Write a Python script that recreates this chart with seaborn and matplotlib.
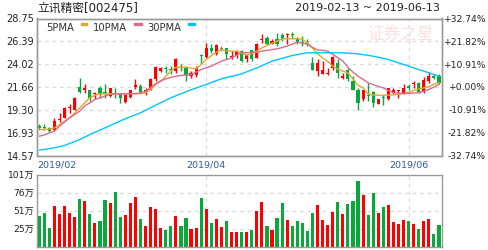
import numpy as np
import pandas as pd
import matplotlib
matplotlib.use("Agg")
import matplotlib.pyplot as plt
import seaborn as sns
from matplotlib.patches import Rectangle
from matplotlib.transforms import blended_transform_factory

sns.set_theme(style="white")
plt.rcParams['font.family'] = ['DejaVu Sans', 'Noto Sans CJK SC']

title = "立讯精密[002475]"
date_range = "2019-02-13 ~ 2019-06-13"
watermark = "证券之星"

opens = [17.61, 17.57, 17.43, 17.26, 18.23, 18.47, 19.44, 19.33, 21.68, 21.40,
         21.30, 20.89, 21.58, 21.13, 20.71, 21.02, 20.95, 20.13, 20.61, 21.68,
         21.75, 21.06, 21.40, 22.44, 23.30, 23.64, 23.54, 23.30, 23.71, 23.64,
         22.78, 22.89, 24.99, 24.75, 25.65, 25.09, 25.58, 25.65, 24.75, 24.85,
         25.37, 24.51, 25.44, 24.68, 26.51, 26.68, 26.13, 26.65, 27.03, 27.03,
         27.16, 26.75, 26.34, 26.23, 24.16, 23.30, 23.02, 22.96, 23.58, 24.16,
         22.61, 23.40, 22.27, 21.40, 20.37, 20.82, 21.16, 19.95, 20.64, 20.44,
         21.02, 21.20, 21.06, 21.75, 21.95, 22.09, 21.23, 22.27, 22.78, 22.78]
closes = [17.43, 17.40, 17.09, 18.19, 18.37, 19.50, 19.57, 20.54, 21.16, 21.54,
          20.54, 21.02, 20.89, 20.99, 21.51, 20.89, 20.54, 20.82, 21.30, 21.82,
          21.16, 21.40, 22.44, 23.71, 23.64, 23.51, 23.40, 24.51, 23.58, 22.89,
          23.13, 23.64, 24.85, 25.65, 25.37, 25.96, 25.58, 25.03, 24.92, 25.30,
          24.34, 24.96, 24.51, 26.13, 26.65, 26.06, 26.47, 26.06, 26.58, 27.16,
          27.03, 26.34, 26.20, 26.10, 23.47, 24.16, 23.37, 23.09, 24.75, 23.13,
          22.78, 22.44, 21.40, 20.02, 21.30, 20.71, 20.02, 20.37, 20.54, 21.51,
          21.30, 21.33, 21.51, 21.58, 22.09, 21.16, 22.40, 22.85, 22.64, 22.09]
highs = [17.85, 17.78, 17.50, 18.47, 18.99, 19.57, 19.85, 20.61, 22.61, 21.92,
         21.40, 21.16, 21.75, 21.92, 21.58, 21.58, 21.06, 20.95, 21.40, 22.51,
         21.92, 21.58, 22.54, 23.82, 23.71, 23.82, 23.82, 24.61, 23.99, 23.82,
         23.30, 23.82, 25.09, 26.23, 26.06, 26.06, 25.89, 25.72, 25.37, 25.54,
         25.44, 25.09, 25.54, 26.20, 27.16, 26.92, 26.58, 27.27, 27.27, 27.27,
         27.37, 26.82, 26.92, 26.58, 24.75, 24.51, 24.34, 23.64, 24.85, 24.51,
         23.13, 23.58, 22.78, 21.51, 21.40, 22.09, 21.23, 20.44, 20.82, 21.58,
         21.58, 21.40, 21.99, 21.99, 22.33, 22.16, 22.68, 23.23, 23.02, 23.02]
lows = [17.26, 17.16, 17.02, 17.09, 18.06, 18.40, 18.99, 19.23, 21.06, 21.06,
        20.20, 20.37, 20.54, 20.54, 20.61, 20.54, 20.02, 20.02, 20.54, 21.47,
        21.06, 20.82, 21.30, 22.33, 23.23, 23.13, 22.96, 23.13, 23.30, 22.27,
        22.61, 22.71, 23.99, 24.68, 25.20, 24.96, 25.37, 24.51, 24.51, 24.68,
        24.23, 24.27, 24.40, 24.61, 26.23, 25.99, 26.06, 25.89, 26.47, 26.13,
        26.75, 26.06, 25.89, 25.89, 23.40, 22.78, 22.96, 22.89, 23.47, 22.61,
        22.44, 22.27, 21.30, 19.33, 20.26, 20.20, 19.57, 19.92, 19.78, 20.33,
        20.89, 20.54, 20.89, 21.40, 21.51, 21.09, 21.09, 22.09, 22.44, 21.92]
volumes = [43.3, 47.5, 26.5, 57.3, 46.1, 57.3, 47.5, 41.9, 67.1, 64.3,
           46.1, 33.5, 36.3, 65.7, 61.5, 76.8, 41.9, 44.7, 61.5, 69.9,
           39.1, 29.3, 55.9, 53.1, 26.5, 23.8, 29.3, 43.3, 29.3, 40.5,
           25.1, 26.5, 68.5, 53.1, 33.5, 39.1, 27.9, 36.3, 21.0, 21.0,
           21.0, 21.0, 23.8, 50.3, 62.9, 29.3, 23.8, 40.5, 61.5, 37.7,
           29.3, 36.3, 33.5, 22.4, 47.5, 58.7, 37.7, 30.7, 48.9, 62.9,
           46.1, 60.1, 64.3, 92.2, 72.6, 44.7, 75.4, 47.5, 55.9, 58.7,
           34.9, 32.1, 37.7, 36.3, 32.1, 25.1, 36.3, 39.1, 18.2, 30.7]
ma5 = [17.26, 17.26, 17.30, 17.43, 17.78, 18.12, 18.47, 18.98, 19.50, 20.02,
       20.54, 20.80, 20.95, 20.95, 20.97, 20.97, 20.95, 20.95, 20.97, 20.97,
       20.95, 21.06, 21.40, 21.91, 22.25, 22.78, 23.30, 23.71, 23.71, 23.71,
       23.62, 23.54, 23.99, 24.50, 24.90, 25.25, 25.54, 25.40, 25.37, 25.37,
       25.20, 24.95, 25.15, 25.37, 25.71, 25.95, 26.20, 26.40, 26.65, 26.65,
       26.65, 26.65, 26.60, 26.20, 25.70, 25.10, 24.68, 24.30, 23.82, 23.50,
       23.30, 23.13, 22.50, 21.85, 21.57, 20.95, 20.82, 20.81, 20.81, 20.81,
       20.85, 20.90, 20.98, 21.10, 21.30, 21.45, 21.57, 21.70, 21.95, 22.10]
ma10 = [16.57, 16.70, 16.90, 17.09, 17.61, 18.04, 18.47, 18.82, 19.16, 19.70,
        20.02, 20.37, 20.54, 20.71, 20.90, 20.95, 20.95, 20.95, 20.97, 20.97,
        21.06, 21.20, 21.60, 22.00, 22.30, 22.50, 22.65, 22.78, 22.85, 22.90,
        22.95, 23.20, 23.47, 23.65, 23.82, 24.08, 24.33, 24.50, 24.68, 24.95,
        25.20, 25.22, 25.23, 25.25, 25.37, 25.45, 25.54, 25.60, 25.75, 25.89,
        26.10, 26.30, 26.20, 26.10, 25.75, 25.50, 25.45, 25.37, 25.05, 24.70,
        24.35, 23.70, 23.20, 22.78, 22.45, 22.09, 21.90, 21.72, 21.57, 21.30,
        21.06, 21.02, 20.99, 21.00, 21.03, 21.06, 21.22, 21.40, 21.65, 21.92]
ma30 = [15.12, 15.20, 15.28, 15.37, 15.49, 15.61, 15.82, 16.02, 16.23, 16.48,
        16.74, 16.97, 17.20, 17.43, 17.67, 17.90, 18.14, 18.37, 18.58, 18.78,
        18.99, 19.25, 19.52, 19.78, 20.03, 20.29, 20.54, 20.75, 20.96, 21.16,
        21.37, 21.55, 21.74, 21.92, 22.12, 22.31, 22.51, 22.64, 22.76, 22.89,
        23.02, 23.23, 23.43, 23.64, 23.87, 24.10, 24.33, 24.48, 24.63, 24.77,
        24.92, 25.01, 25.11, 25.20, 25.20, 25.20, 25.20, 25.20, 25.20, 25.20,
        25.20, 25.16, 25.13, 25.09, 25.01, 24.93, 24.85, 24.74, 24.62, 24.51,
        24.34, 24.16, 23.99, 23.82, 23.64, 23.47, 23.30, 23.13, 22.95, 22.78]

month_pos = [0, 33, 73]
month_labels = ["2019/02", "2019/04", "2019/06"]
price_ticks = [14.57, 16.93, 19.30, 21.66, 24.02, 26.39, 28.75]
pct_labels = ["-32.74%", "-21.82%", "-10.91%", "+0.00%", "+10.91%", "+21.82%", "+32.74%"]
vol_ticks = [25.2, 50.5, 75.7, 100.9]
vol_labels = ["25万", "51万", "76万", "101万"]
ma_names = ["5PMA", "10PMA", "30PMA"]

RED = "#FF0000"
GREEN = "#0AA83A"
GRAY = "#808080"
MA_COLORS = ["#E0A82E", "#DB6A90", "#00C6FF"]
FRAME = "#9A9A9A"
GRID = "#DADADA"
TXT = "#222222"
W, H = 488, 250

df = pd.DataFrame({"o": opens, "c": closes, "h": highs, "l": lows, "v": volumes,
                   "ma5": ma5, "ma10": ma10, "ma30": ma30})
df["x"] = np.arange(len(df))
df["col"] = np.where(df.c > df.o, RED, np.where(df.c < df.o, GREEN, GRAY))
df["vdir"] = np.where(df.c >= df.o, "up", "down")

fig = plt.figure(figsize=(W / 100, H / 100), dpi=100)
fig.patch.set_facecolor("white")
L, R = 37, 442
ax = fig.add_axes([L / W, 1 - 155.5 / H, (R - L) / W, 137 / H])
axv = fig.add_axes([L / W, 1 - 247 / H, (R - L) / W, 72.5 / H])
xlim = (-0.45, 79.6)

# watermark (behind everything)
fig.text(400 / W, 1 - 34 / H, watermark, ha="center", va="center", fontsize=12,
         color="#FBE2E2", family=["Noto Sans CJK SC"], style="italic", zorder=0)
ax.set_facecolor("none")

# candles
ax.vlines(df.x, df.l, df.h, colors=df.col, lw=1.0, zorder=2)
body_b = np.minimum(df.o, df.c)
body_h = np.maximum((df.c - df.o).abs(), 0.07)
ax.bar(df.x, body_h, bottom=body_b, width=0.62, color=df.col, linewidth=0, zorder=2)

for name, col in zip(["ma5", "ma10", "ma30"], MA_COLORS):
    sns.lineplot(data=df, x="x", y=name, ax=ax, color=col, lw=1.0, zorder=3)

ax.set_xlim(*xlim)
ax.set_ylim(price_ticks[0], price_ticks[-1])
ax.set_yticks(price_ticks)
ax.set_yticklabels([f"{v:.2f}" for v in price_ticks])
ax.set_xticks([])
ax.set_xlabel("")
ax.set_ylabel("")
ax.tick_params(axis="y", length=0, pad=2, labelsize=7, labelcolor=TXT)
for v in price_ticks[1:-1]:
    ax.axhline(v, color=GRID, lw=0.9, ls=(0, (3, 3)), zorder=1)
for p in month_pos[1:]:
    ax.axvline(p, color=GRID, lw=0.9, ls=(0, (3, 3)), zorder=1)

ax2 = ax.twinx()
ax2.set_ylim(price_ticks[0], price_ticks[-1])
ax2.set_yticks(price_ticks)
ax2.set_yticklabels(pct_labels)
ax2.tick_params(axis="y", length=0, pad=(486 - R) * 0.72, labelsize=6.6, labelcolor=TXT)
for t in ax2.get_yticklabels():
    t.set_horizontalalignment("right")

for a in (ax, ax2, axv):
    for s in a.spines.values():
        s.set_color(FRAME)
        s.set_linewidth(1.0)

# volume
sns.barplot(data=df, x="x", y="v", hue="vdir", palette={"up": RED, "down": GREEN},
            dodge=False, native_scale=True, width=0.62, saturation=1, errorbar=None,
            legend=False, ax=axv, linewidth=0, zorder=2)
axv.set_xlim(*xlim)
axv.set_ylim(0, vol_ticks[-1])
axv.set_yticks(vol_ticks)
axv.set_yticklabels(vol_labels)
axv.set_xticks([])
axv.set_xlabel("")
axv.set_ylabel("")
axv.tick_params(axis="y", length=0, pad=2, labelsize=6.6, labelcolor=TXT)
for v in vol_ticks[:-1]:
    axv.axhline(v, color=GRID, lw=0.9, ls=(0, (3, 3)), zorder=1)
for p in month_pos[1:]:
    axv.axvline(p, color=GRID, lw=0.9, ls=(0, (3, 3)), zorder=1)

# date labels between panels
tr = blended_transform_factory(ax.transData, fig.transFigure)
for i, (p, lab) in enumerate(zip(month_pos, month_labels)):
    if i == 0:
        fig.text(L / W, 1 - 165.5 / H, lab, ha="left", va="center", fontsize=6.8, color="#2E5C9E")
    else:
        fig.text(p, 1 - 165.5 / H, lab, ha="center", va="center", fontsize=6.8,
                 color="#2E5C9E", transform=tr)

# header texts
fig.text(L / W, 1 - 8 / H, title, ha="left", va="center", fontsize=8.5, color=TXT)
fig.text(440 / W, 1 - 8 / H, date_range, ha="right", va="center", fontsize=8, color=TXT)

# legend
leg_x = [46, 93, 147]
sw_x = [81, 134, 188]
sw_w = [6, 8, 7]
for name, lx, sx, sw, col in zip(ma_names, leg_x, sw_x, sw_w, MA_COLORS):
    fig.text(lx / W, 1 - 28 / H, name, ha="left", va="center", fontsize=7.2, color="#333333")
    fig.patches.append(Rectangle((sx / W, 1 - 25 / H), sw / W, 2.2 / H,
                                 transform=fig.transFigure, color=col, figure=fig))

fig.savefig("out.png", dpi=100, facecolor="white")
